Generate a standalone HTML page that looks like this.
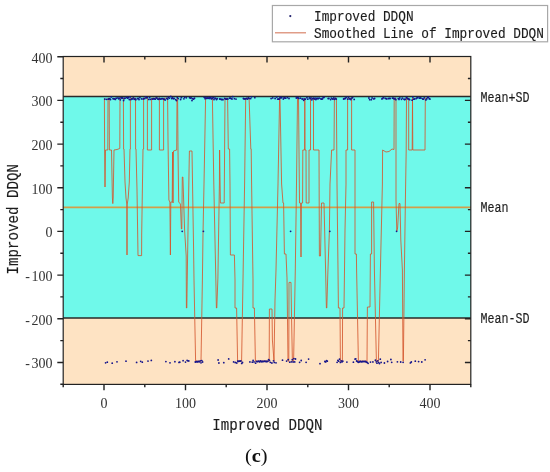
<!DOCTYPE html>
<html><head><meta charset="utf-8"><title>Improved DDQN</title>
<style>
html,body{margin:0;padding:0;background:#fff;}
svg{display:block;}
text{font-family:"Liberation Mono",monospace;fill:#1c1c1c;stroke:#1c1c1c;stroke-width:0.15px;}
.num text{font-family:"Liberation Serif",serif;fill:#333;stroke:none;}
</style></head><body>
<svg width="550" height="472" viewBox="0 0 550 472">
<rect width="550" height="472" fill="#fff"/>
<rect x="63.2" y="56.5" width="407.6" height="327.9" fill="#FEE3C3"/>
<rect x="63.2" y="96.5" width="407.6" height="221.5" fill="#6FF9EA"/>
<path d="M63.2,96.5H470.8M63.2,318.0H470.8" stroke="#2a2a2a" stroke-width="1.5" fill="none"/>
<path d="M63.2,207.4H470.8" stroke="#D29E4A" stroke-width="1.8" fill="none"/>
<path d="M104.4,98.2 L104.6,150.0 L105.0,187.0 L105.5,150.0 L107.8,150.0 L108.0,98.2 L109.2,98.2 L109.4,150.0 L111.5,150.0 L112.4,198.0 L112.8,203.6 L113.2,198.0 L114.0,150.0 L117.0,149.5 L119.8,148.5 L120.0,98.2 L123.4,98.2 L123.6,149.0 L124.0,149.0 L125.0,182.0 L126.0,198.0 L126.9,205.0 L127.0,255.0 L127.1,205.0 L128.2,198.0 L129.3,182.0 L130.0,149.0 L130.4,149.0 L130.4,98.2 L135.5,98.2 L135.6,149.0 L136.0,149.0 L137.0,190.0 L138.0,255.6 L141.6,255.6 L141.7,234.0 L143.0,149.0 L143.6,149.0 L143.6,98.2 L147.4,98.2 L147.4,150.0 L151.6,150.0 L151.6,98.2 L159.4,98.2 L159.4,150.0 L163.6,150.0 L163.6,98.2 L167.6,98.2 L168.0,140.0 L168.9,200.0 L169.9,202.0 L170.4,255.0 L170.8,202.0 L172.2,202.0 L172.6,152.0 L173.0,203.0 L173.5,151.0 L176.7,150.0 L177.0,98.2 L177.6,98.2 L178.0,150.0 L178.7,202.0 L180.4,204.0 L181.4,229.0 L181.8,229.0 L182.3,177.0 L182.9,177.0 L184.6,230.0 L186.2,256.0 L186.4,308.0 L186.8,308.0 L188.0,230.0 L189.4,151.0 L192.0,151.0 L193.6,250.0 L194.0,280.0 L195.6,361.2 L201.0,361.2 L202.4,280.0 L203.0,234.0 L204.0,184.0 L205.6,98.2 L212.4,98.2 L213.8,184.0 L215.8,278.0 L216.4,308.0 L216.8,308.0 L217.9,278.0 L219.4,184.0 L219.6,150.0 L220.4,203.0 L224.2,203.0 L225.0,98.2 L227.6,98.2 L228.3,149.0 L229.6,149.0 L230.0,184.0 L230.4,255.0 L234.4,255.0 L235.0,280.0 L235.0,308.0 L236.6,308.0 L237.6,361.2 L241.6,361.2 L243.0,280.0 L244.6,184.0 L245.7,98.2 L249.1,98.2 L250.8,149.0 L251.2,149.0 L251.6,184.0 L253.0,280.0 L253.0,308.0 L254.4,308.0 L255.4,361.2 L269.2,361.2 L269.4,309.0 L272.0,309.0 L272.4,340.0 L274.0,361.2 L275.0,300.0 L276.0,270.0 L278.0,184.0 L279.6,98.2 L280.0,98.2 L281.6,184.0 L283.0,203.0 L283.6,203.0 L284.4,254.0 L286.0,254.0 L287.0,278.0 L288.0,361.2 L288.8,361.2 L289.0,282.4 L291.0,282.4 L291.6,320.0 L292.4,361.2 L293.6,361.2 L295.3,270.0 L296.5,184.0 L297.5,98.2 L298.5,98.2 L299.5,203.0 L300.6,203.0 L301.0,257.0 L301.4,203.0 L302.6,203.0 L302.8,150.0 L304.6,150.0 L304.8,98.2 L305.0,150.0 L306.0,150.0 L306.2,203.0 L309.0,203.0 L309.0,150.0 L310.5,150.0 L310.5,98.2 L313.5,98.2 L313.5,150.0 L319.0,150.0 L319.4,256.0 L320.5,256.0 L321.5,203.0 L324.0,203.0 L325.6,270.0 L326.4,308.0 L326.8,308.0 L327.8,274.0 L329.4,231.0 L330.0,184.0 L331.6,150.0 L334.0,150.0 L334.4,98.2 L336.4,98.2 L337.0,184.0 L338.0,270.0 L338.4,308.0 L340.0,308.0 L340.4,361.2 L342.4,361.2 L342.6,308.0 L344.0,308.0 L344.5,270.0 L345.0,230.0 L346.0,184.0 L346.0,150.0 L347.6,150.0 L347.6,98.2 L351.6,98.2 L351.6,150.0 L355.0,150.0 L355.0,254.0 L356.4,254.0 L356.6,270.0 L358.4,361.2 L367.0,361.2 L367.4,307.0 L370.0,307.0 L370.4,254.0 L371.6,254.0 L371.6,202.0 L373.6,202.0 L374.4,270.0 L376.4,361.2 L378.4,361.2 L380.4,270.0 L382.4,184.0 L382.6,150.0 L386.0,152.0 L389.0,151.5 L392.0,149.0 L394.0,149.5 L394.2,98.2 L396.0,98.2 L396.0,200.0 L396.8,231.0 L397.6,228.0 L399.0,203.5 L400.0,203.5 L400.8,240.0 L402.4,270.0 L403.0,361.2 L403.4,361.2 L404.4,270.0 L405.4,200.0 L406.2,150.0 L406.5,98.2 L408.7,98.2 L408.7,150.0 L412.2,150.0 L412.5,98.2 L412.8,150.0 L425.0,150.0 L425.3,98.2 L427.5,98.2" fill="none" stroke="#D4562C" stroke-width="0.88" stroke-linejoin="round" opacity="0.95"/>
<g fill="#16168c"><circle cx="104.8" cy="99.1" r="0.9"/><circle cx="105.6" cy="362.8" r="0.9"/><circle cx="106.4" cy="99.3" r="0.9"/><circle cx="107.3" cy="362.2" r="0.9"/><circle cx="108.1" cy="99.2" r="0.9"/><circle cx="108.9" cy="98.9" r="0.9"/><circle cx="109.7" cy="98.7" r="0.9"/><circle cx="110.5" cy="99.5" r="0.9"/><circle cx="111.3" cy="96.9" r="0.9"/><circle cx="112.2" cy="363.2" r="0.9"/><circle cx="113.0" cy="98.7" r="0.9"/><circle cx="113.8" cy="98.8" r="0.9"/><circle cx="114.6" cy="98.9" r="0.9"/><circle cx="115.4" cy="99.4" r="0.9"/><circle cx="116.2" cy="98.2" r="0.9"/><circle cx="117.0" cy="361.8" r="0.9"/><circle cx="117.9" cy="97.9" r="0.9"/><circle cx="118.7" cy="98.8" r="0.9"/><circle cx="119.5" cy="98.1" r="0.9"/><circle cx="120.3" cy="99.8" r="0.9"/><circle cx="121.1" cy="97.7" r="0.9"/><circle cx="121.9" cy="98.1" r="0.9"/><circle cx="122.7" cy="98.0" r="0.9"/><circle cx="123.6" cy="100.5" r="0.9"/><circle cx="124.4" cy="98.5" r="0.9"/><circle cx="125.2" cy="98.1" r="0.9"/><circle cx="126.0" cy="361.2" r="0.9"/><circle cx="126.8" cy="97.4" r="0.9"/><circle cx="127.6" cy="98.2" r="0.9"/><circle cx="128.4" cy="97.6" r="0.9"/><circle cx="129.3" cy="99.5" r="0.9"/><circle cx="130.1" cy="97.0" r="0.9"/><circle cx="130.9" cy="99.6" r="0.9"/><circle cx="131.7" cy="98.9" r="0.9"/><circle cx="132.5" cy="98.8" r="0.9"/><circle cx="133.3" cy="97.9" r="0.9"/><circle cx="134.2" cy="99.3" r="0.9"/><circle cx="135.0" cy="98.6" r="0.9"/><circle cx="135.8" cy="99.7" r="0.9"/><circle cx="136.6" cy="362.4" r="0.9"/><circle cx="137.4" cy="98.7" r="0.9"/><circle cx="138.2" cy="98.3" r="0.9"/><circle cx="139.0" cy="99.5" r="0.9"/><circle cx="139.9" cy="97.6" r="0.9"/><circle cx="140.7" cy="361.3" r="0.9"/><circle cx="141.5" cy="98.9" r="0.9"/><circle cx="142.3" cy="362.2" r="0.9"/><circle cx="143.1" cy="99.0" r="0.9"/><circle cx="143.9" cy="98.5" r="0.9"/><circle cx="144.8" cy="98.6" r="0.9"/><circle cx="145.6" cy="96.8" r="0.9"/><circle cx="146.4" cy="97.7" r="0.9"/><circle cx="147.2" cy="97.7" r="0.9"/><circle cx="148.0" cy="361.1" r="0.9"/><circle cx="148.8" cy="99.4" r="0.9"/><circle cx="149.6" cy="97.5" r="0.9"/><circle cx="150.5" cy="99.3" r="0.9"/><circle cx="151.3" cy="360.4" r="0.9"/><circle cx="152.1" cy="98.9" r="0.9"/><circle cx="152.9" cy="99.1" r="0.9"/><circle cx="153.7" cy="98.7" r="0.9"/><circle cx="154.5" cy="98.8" r="0.9"/><circle cx="155.3" cy="99.2" r="0.9"/><circle cx="156.2" cy="97.8" r="0.9"/><circle cx="157.0" cy="98.1" r="0.9"/><circle cx="157.8" cy="99.1" r="0.9"/><circle cx="158.6" cy="99.3" r="0.9"/><circle cx="159.4" cy="98.5" r="0.9"/><circle cx="160.2" cy="99.1" r="0.9"/><circle cx="161.1" cy="98.9" r="0.9"/><circle cx="161.9" cy="98.6" r="0.9"/><circle cx="162.7" cy="98.6" r="0.9"/><circle cx="163.5" cy="99.1" r="0.9"/><circle cx="164.3" cy="99.2" r="0.9"/><circle cx="165.1" cy="100.0" r="0.9"/><circle cx="165.9" cy="361.6" r="0.9"/><circle cx="166.8" cy="98.4" r="0.9"/><circle cx="167.6" cy="99.2" r="0.9"/><circle cx="168.4" cy="97.2" r="0.9"/><circle cx="169.2" cy="98.2" r="0.9"/><circle cx="170.0" cy="362.8" r="0.9"/><circle cx="170.8" cy="96.5" r="0.9"/><circle cx="171.6" cy="98.5" r="0.9"/><circle cx="172.5" cy="98.0" r="0.9"/><circle cx="173.3" cy="98.7" r="0.9"/><circle cx="174.1" cy="98.5" r="0.9"/><circle cx="174.9" cy="361.7" r="0.9"/><circle cx="175.7" cy="99.6" r="0.9"/><circle cx="176.5" cy="100.6" r="0.9"/><circle cx="177.3" cy="97.6" r="0.9"/><circle cx="178.2" cy="98.6" r="0.9"/><circle cx="179.0" cy="362.4" r="0.9"/><circle cx="179.8" cy="362.2" r="0.9"/><circle cx="180.6" cy="99.5" r="0.9"/><circle cx="181.4" cy="97.7" r="0.9"/><circle cx="182.2" cy="231.3" r="0.9"/><circle cx="183.1" cy="360.7" r="0.9"/><circle cx="183.9" cy="98.8" r="0.9"/><circle cx="184.7" cy="97.3" r="0.9"/><circle cx="185.5" cy="362.1" r="0.9"/><circle cx="186.3" cy="97.8" r="0.9"/><circle cx="187.1" cy="360.3" r="0.9"/><circle cx="187.9" cy="360.8" r="0.9"/><circle cx="188.8" cy="360.9" r="0.9"/><circle cx="189.6" cy="97.7" r="0.9"/><circle cx="190.4" cy="98.1" r="0.9"/><circle cx="191.2" cy="97.9" r="0.9"/><circle cx="192.0" cy="100.5" r="0.9"/><circle cx="192.8" cy="98.7" r="0.9"/><circle cx="193.6" cy="99.2" r="0.9"/><circle cx="194.5" cy="98.2" r="0.9"/><circle cx="195.3" cy="362.0" r="0.9"/><circle cx="196.1" cy="361.8" r="0.9"/><circle cx="196.9" cy="361.5" r="0.9"/><circle cx="197.7" cy="361.9" r="0.9"/><circle cx="198.5" cy="361.3" r="0.9"/><circle cx="199.4" cy="361.8" r="0.9"/><circle cx="200.2" cy="360.8" r="0.9"/><circle cx="201.0" cy="362.8" r="0.9"/><circle cx="201.8" cy="360.6" r="0.9"/><circle cx="202.6" cy="362.0" r="0.9"/><circle cx="203.4" cy="231.3" r="0.9"/><circle cx="204.2" cy="97.3" r="0.9"/><circle cx="205.1" cy="98.7" r="0.9"/><circle cx="205.9" cy="97.6" r="0.9"/><circle cx="206.7" cy="98.4" r="0.9"/><circle cx="207.5" cy="98.0" r="0.9"/><circle cx="208.3" cy="98.3" r="0.9"/><circle cx="209.1" cy="97.5" r="0.9"/><circle cx="209.9" cy="98.5" r="0.9"/><circle cx="210.8" cy="97.5" r="0.9"/><circle cx="211.6" cy="98.9" r="0.9"/><circle cx="212.4" cy="98.2" r="0.9"/><circle cx="213.2" cy="97.7" r="0.9"/><circle cx="214.0" cy="99.6" r="0.9"/><circle cx="214.8" cy="98.1" r="0.9"/><circle cx="215.7" cy="98.4" r="0.9"/><circle cx="216.5" cy="99.5" r="0.9"/><circle cx="217.3" cy="98.7" r="0.9"/><circle cx="218.1" cy="360.0" r="0.9"/><circle cx="218.9" cy="363.0" r="0.9"/><circle cx="219.7" cy="99.0" r="0.9"/><circle cx="220.5" cy="99.1" r="0.9"/><circle cx="221.4" cy="99.5" r="0.9"/><circle cx="222.2" cy="99.4" r="0.9"/><circle cx="223.0" cy="99.7" r="0.9"/><circle cx="223.8" cy="362.7" r="0.9"/><circle cx="224.6" cy="98.3" r="0.9"/><circle cx="225.4" cy="98.9" r="0.9"/><circle cx="226.2" cy="99.2" r="0.9"/><circle cx="227.1" cy="98.7" r="0.9"/><circle cx="227.9" cy="99.1" r="0.9"/><circle cx="228.7" cy="358.9" r="0.9"/><circle cx="229.5" cy="98.2" r="0.9"/><circle cx="230.3" cy="98.2" r="0.9"/><circle cx="231.1" cy="98.5" r="0.9"/><circle cx="232.0" cy="99.0" r="0.9"/><circle cx="232.8" cy="96.7" r="0.9"/><circle cx="233.6" cy="361.9" r="0.9"/><circle cx="234.4" cy="98.7" r="0.9"/><circle cx="235.2" cy="362.5" r="0.9"/><circle cx="236.0" cy="99.1" r="0.9"/><circle cx="236.8" cy="363.0" r="0.9"/><circle cx="237.7" cy="361.1" r="0.9"/><circle cx="238.5" cy="361.4" r="0.9"/><circle cx="239.3" cy="361.2" r="0.9"/><circle cx="240.1" cy="361.1" r="0.9"/><circle cx="240.9" cy="361.0" r="0.9"/><circle cx="241.7" cy="363.4" r="0.9"/><circle cx="242.5" cy="362.5" r="0.9"/><circle cx="243.4" cy="98.5" r="0.9"/><circle cx="244.2" cy="98.9" r="0.9"/><circle cx="245.0" cy="98.8" r="0.9"/><circle cx="245.8" cy="98.8" r="0.9"/><circle cx="246.6" cy="98.3" r="0.9"/><circle cx="247.4" cy="99.1" r="0.9"/><circle cx="248.3" cy="98.0" r="0.9"/><circle cx="249.1" cy="98.5" r="0.9"/><circle cx="249.9" cy="361.9" r="0.9"/><circle cx="250.7" cy="98.6" r="0.9"/><circle cx="251.5" cy="96.8" r="0.9"/><circle cx="252.3" cy="362.2" r="0.9"/><circle cx="253.1" cy="360.4" r="0.9"/><circle cx="254.0" cy="361.9" r="0.9"/><circle cx="254.8" cy="97.7" r="0.9"/><circle cx="255.6" cy="363.2" r="0.9"/><circle cx="256.4" cy="361.4" r="0.9"/><circle cx="257.2" cy="361.6" r="0.9"/><circle cx="258.0" cy="361.5" r="0.9"/><circle cx="258.9" cy="361.2" r="0.9"/><circle cx="259.7" cy="361.9" r="0.9"/><circle cx="260.5" cy="360.9" r="0.9"/><circle cx="261.3" cy="361.5" r="0.9"/><circle cx="262.1" cy="361.8" r="0.9"/><circle cx="262.9" cy="361.2" r="0.9"/><circle cx="263.7" cy="361.6" r="0.9"/><circle cx="264.6" cy="361.2" r="0.9"/><circle cx="265.4" cy="361.4" r="0.9"/><circle cx="266.2" cy="361.5" r="0.9"/><circle cx="267.0" cy="361.5" r="0.9"/><circle cx="267.8" cy="361.3" r="0.9"/><circle cx="268.6" cy="359.7" r="0.9"/><circle cx="269.4" cy="360.4" r="0.9"/><circle cx="270.3" cy="362.3" r="0.9"/><circle cx="271.1" cy="98.6" r="0.9"/><circle cx="271.9" cy="363.0" r="0.9"/><circle cx="272.7" cy="97.9" r="0.9"/><circle cx="273.5" cy="360.8" r="0.9"/><circle cx="274.3" cy="362.4" r="0.9"/><circle cx="275.1" cy="98.5" r="0.9"/><circle cx="276.0" cy="362.8" r="0.9"/><circle cx="276.8" cy="97.1" r="0.9"/><circle cx="277.6" cy="99.1" r="0.9"/><circle cx="278.4" cy="99.2" r="0.9"/><circle cx="279.2" cy="99.0" r="0.9"/><circle cx="280.0" cy="97.2" r="0.9"/><circle cx="280.9" cy="98.0" r="0.9"/><circle cx="281.7" cy="97.4" r="0.9"/><circle cx="282.5" cy="360.2" r="0.9"/><circle cx="283.3" cy="99.0" r="0.9"/><circle cx="284.1" cy="97.6" r="0.9"/><circle cx="284.9" cy="98.1" r="0.9"/><circle cx="285.7" cy="98.2" r="0.9"/><circle cx="286.6" cy="361.1" r="0.9"/><circle cx="287.4" cy="97.6" r="0.9"/><circle cx="288.2" cy="359.7" r="0.9"/><circle cx="289.0" cy="98.5" r="0.9"/><circle cx="289.8" cy="362.2" r="0.9"/><circle cx="290.6" cy="231.3" r="0.9"/><circle cx="291.4" cy="361.8" r="0.9"/><circle cx="292.3" cy="359.7" r="0.9"/><circle cx="293.1" cy="362.0" r="0.9"/><circle cx="293.9" cy="358.6" r="0.9"/><circle cx="294.7" cy="361.9" r="0.9"/><circle cx="295.5" cy="359.0" r="0.9"/><circle cx="296.3" cy="98.0" r="0.9"/><circle cx="297.2" cy="97.5" r="0.9"/><circle cx="298.0" cy="97.7" r="0.9"/><circle cx="298.8" cy="98.4" r="0.9"/><circle cx="299.6" cy="362.3" r="0.9"/><circle cx="300.4" cy="98.2" r="0.9"/><circle cx="301.2" cy="360.5" r="0.9"/><circle cx="302.0" cy="98.9" r="0.9"/><circle cx="302.9" cy="99.0" r="0.9"/><circle cx="303.7" cy="100.3" r="0.9"/><circle cx="304.5" cy="99.1" r="0.9"/><circle cx="305.3" cy="99.2" r="0.9"/><circle cx="306.1" cy="362.3" r="0.9"/><circle cx="306.9" cy="97.7" r="0.9"/><circle cx="307.8" cy="99.2" r="0.9"/><circle cx="308.6" cy="359.1" r="0.9"/><circle cx="309.4" cy="97.9" r="0.9"/><circle cx="310.2" cy="98.7" r="0.9"/><circle cx="311.0" cy="97.9" r="0.9"/><circle cx="311.8" cy="99.8" r="0.9"/><circle cx="312.6" cy="98.7" r="0.9"/><circle cx="313.5" cy="98.2" r="0.9"/><circle cx="314.3" cy="99.0" r="0.9"/><circle cx="315.1" cy="98.1" r="0.9"/><circle cx="315.9" cy="99.5" r="0.9"/><circle cx="316.7" cy="98.5" r="0.9"/><circle cx="317.5" cy="98.5" r="0.9"/><circle cx="318.3" cy="98.7" r="0.9"/><circle cx="319.2" cy="98.1" r="0.9"/><circle cx="320.0" cy="363.7" r="0.9"/><circle cx="320.8" cy="98.8" r="0.9"/><circle cx="321.6" cy="99.2" r="0.9"/><circle cx="322.4" cy="98.9" r="0.9"/><circle cx="323.2" cy="97.5" r="0.9"/><circle cx="324.0" cy="97.4" r="0.9"/><circle cx="324.9" cy="361.5" r="0.9"/><circle cx="325.7" cy="361.9" r="0.9"/><circle cx="326.5" cy="360.7" r="0.9"/><circle cx="327.3" cy="361.2" r="0.9"/><circle cx="328.1" cy="98.6" r="0.9"/><circle cx="328.9" cy="98.4" r="0.9"/><circle cx="329.8" cy="231.3" r="0.9"/><circle cx="330.6" cy="99.6" r="0.9"/><circle cx="331.4" cy="98.1" r="0.9"/><circle cx="332.2" cy="98.8" r="0.9"/><circle cx="333.0" cy="99.2" r="0.9"/><circle cx="333.8" cy="98.0" r="0.9"/><circle cx="334.6" cy="99.3" r="0.9"/><circle cx="335.5" cy="98.5" r="0.9"/><circle cx="336.3" cy="99.1" r="0.9"/><circle cx="337.1" cy="362.3" r="0.9"/><circle cx="337.9" cy="360.4" r="0.9"/><circle cx="338.7" cy="361.2" r="0.9"/><circle cx="339.5" cy="359.2" r="0.9"/><circle cx="340.4" cy="362.4" r="0.9"/><circle cx="341.2" cy="360.8" r="0.9"/><circle cx="342.0" cy="361.9" r="0.9"/><circle cx="342.8" cy="361.2" r="0.9"/><circle cx="343.6" cy="99.0" r="0.9"/><circle cx="344.4" cy="98.7" r="0.9"/><circle cx="345.2" cy="98.5" r="0.9"/><circle cx="346.1" cy="97.5" r="0.9"/><circle cx="346.9" cy="362.1" r="0.9"/><circle cx="347.7" cy="99.2" r="0.9"/><circle cx="348.5" cy="97.2" r="0.9"/><circle cx="349.3" cy="98.8" r="0.9"/><circle cx="350.1" cy="98.8" r="0.9"/><circle cx="350.9" cy="99.6" r="0.9"/><circle cx="351.8" cy="98.1" r="0.9"/><circle cx="352.6" cy="97.6" r="0.9"/><circle cx="353.4" cy="362.2" r="0.9"/><circle cx="354.2" cy="99.4" r="0.9"/><circle cx="355.0" cy="359.1" r="0.9"/><circle cx="355.8" cy="358.9" r="0.9"/><circle cx="356.6" cy="361.0" r="0.9"/><circle cx="357.5" cy="361.5" r="0.9"/><circle cx="358.3" cy="362.3" r="0.9"/><circle cx="359.1" cy="362.0" r="0.9"/><circle cx="359.9" cy="361.4" r="0.9"/><circle cx="360.7" cy="361.5" r="0.9"/><circle cx="361.5" cy="361.8" r="0.9"/><circle cx="362.4" cy="361.5" r="0.9"/><circle cx="363.2" cy="361.6" r="0.9"/><circle cx="364.0" cy="361.3" r="0.9"/><circle cx="364.8" cy="361.6" r="0.9"/><circle cx="365.6" cy="361.5" r="0.9"/><circle cx="366.4" cy="362.1" r="0.9"/><circle cx="367.2" cy="362.4" r="0.9"/><circle cx="368.1" cy="363.3" r="0.9"/><circle cx="368.9" cy="98.0" r="0.9"/><circle cx="369.7" cy="99.7" r="0.9"/><circle cx="370.5" cy="362.1" r="0.9"/><circle cx="371.3" cy="99.7" r="0.9"/><circle cx="372.1" cy="98.0" r="0.9"/><circle cx="372.9" cy="361.9" r="0.9"/><circle cx="373.8" cy="98.9" r="0.9"/><circle cx="374.6" cy="98.4" r="0.9"/><circle cx="375.4" cy="360.2" r="0.9"/><circle cx="376.2" cy="361.8" r="0.9"/><circle cx="377.0" cy="363.2" r="0.9"/><circle cx="377.8" cy="360.9" r="0.9"/><circle cx="378.7" cy="362.6" r="0.9"/><circle cx="379.5" cy="363.6" r="0.9"/><circle cx="380.3" cy="359.2" r="0.9"/><circle cx="381.1" cy="362.4" r="0.9"/><circle cx="381.9" cy="98.9" r="0.9"/><circle cx="382.7" cy="98.4" r="0.9"/><circle cx="383.5" cy="97.6" r="0.9"/><circle cx="384.4" cy="363.0" r="0.9"/><circle cx="385.2" cy="98.3" r="0.9"/><circle cx="386.0" cy="98.6" r="0.9"/><circle cx="386.8" cy="98.9" r="0.9"/><circle cx="387.6" cy="361.5" r="0.9"/><circle cx="388.4" cy="98.6" r="0.9"/><circle cx="389.2" cy="98.4" r="0.9"/><circle cx="390.1" cy="98.5" r="0.9"/><circle cx="390.9" cy="359.5" r="0.9"/><circle cx="391.7" cy="362.3" r="0.9"/><circle cx="392.5" cy="98.2" r="0.9"/><circle cx="393.3" cy="98.2" r="0.9"/><circle cx="394.1" cy="99.0" r="0.9"/><circle cx="395.0" cy="98.4" r="0.9"/><circle cx="395.8" cy="99.7" r="0.9"/><circle cx="396.6" cy="231.3" r="0.9"/><circle cx="397.4" cy="361.8" r="0.9"/><circle cx="398.2" cy="98.6" r="0.9"/><circle cx="399.0" cy="99.4" r="0.9"/><circle cx="399.8" cy="98.0" r="0.9"/><circle cx="400.7" cy="362.0" r="0.9"/><circle cx="401.5" cy="99.3" r="0.9"/><circle cx="402.3" cy="98.1" r="0.9"/><circle cx="403.1" cy="362.3" r="0.9"/><circle cx="403.9" cy="99.1" r="0.9"/><circle cx="404.7" cy="99.7" r="0.9"/><circle cx="405.5" cy="99.1" r="0.9"/><circle cx="406.4" cy="97.3" r="0.9"/><circle cx="407.2" cy="98.2" r="0.9"/><circle cx="408.0" cy="99.1" r="0.9"/><circle cx="408.8" cy="98.9" r="0.9"/><circle cx="409.6" cy="99.7" r="0.9"/><circle cx="410.4" cy="362.9" r="0.9"/><circle cx="411.3" cy="362.0" r="0.9"/><circle cx="412.1" cy="100.2" r="0.9"/><circle cx="412.9" cy="97.0" r="0.9"/><circle cx="413.7" cy="99.2" r="0.9"/><circle cx="414.5" cy="99.0" r="0.9"/><circle cx="415.3" cy="361.2" r="0.9"/><circle cx="416.1" cy="98.7" r="0.9"/><circle cx="417.0" cy="97.9" r="0.9"/><circle cx="417.8" cy="97.4" r="0.9"/><circle cx="418.6" cy="361.6" r="0.9"/><circle cx="419.4" cy="98.2" r="0.9"/><circle cx="420.2" cy="97.8" r="0.9"/><circle cx="421.0" cy="98.2" r="0.9"/><circle cx="421.8" cy="362.0" r="0.9"/><circle cx="422.7" cy="99.0" r="0.9"/><circle cx="423.5" cy="99.2" r="0.9"/><circle cx="424.3" cy="97.8" r="0.9"/><circle cx="425.1" cy="359.8" r="0.9"/><circle cx="425.9" cy="99.9" r="0.9"/><circle cx="426.7" cy="98.9" r="0.9"/><circle cx="427.6" cy="97.5" r="0.9"/><circle cx="428.4" cy="97.1" r="0.9"/><circle cx="429.2" cy="98.7" r="0.9"/><circle cx="430.0" cy="99.1" r="0.9"/></g>
<rect x="63.2" y="56.5" width="407.6" height="327.9" fill="none" stroke="#222" stroke-width="1.2"/>
<path d="M57.3,362.5H63.2M464.9,362.5H470.8M57.3,318.8H63.2M464.9,318.8H470.8M57.3,275.1H63.2M464.9,275.1H470.8M57.3,231.4H63.2M464.9,231.4H470.8M57.3,187.7H63.2M464.9,187.7H470.8M57.3,144.1H63.2M464.9,144.1H470.8M57.3,100.4H63.2M464.9,100.4H470.8M57.3,56.7H63.2M60.3,384.3H63.2M60.3,340.6H63.2M467.9,340.6H470.8M60.3,296.9H63.2M467.9,296.9H470.8M60.3,253.3H63.2M467.9,253.3H470.8M60.3,209.6H63.2M467.9,209.6H470.8M60.3,165.9H63.2M467.9,165.9H470.8M60.3,122.2H63.2M467.9,122.2H470.8M60.3,78.5H63.2M467.9,78.5H470.8M104.0,384.4V390.3M104.0,56.5V62.4M185.5,384.4V390.3M185.5,56.5V62.4M267.0,384.4V390.3M267.0,56.5V62.4M348.5,384.4V390.3M348.5,56.5V62.4M430.0,384.4V390.3M430.0,56.5V62.4M63.2,384.4V387.3M144.8,384.4V387.3M144.8,56.5V59.4M226.2,384.4V387.3M226.2,56.5V59.4M307.8,384.4V387.3M307.8,56.5V59.4M389.2,384.4V387.3M389.2,56.5V59.4M470.8,384.4V387.3" stroke="#222" stroke-width="1.4" fill="none"/>
<g class="num"><text x="52.6" y="368.3" font-size="14" text-anchor="end">-<tspan dx="1.6">300</tspan></text><text x="52.6" y="324.6" font-size="14" text-anchor="end">-<tspan dx="1.6">200</tspan></text><text x="52.6" y="280.9" font-size="14" text-anchor="end">-<tspan dx="1.6">100</tspan></text><text x="52.6" y="237.2" font-size="14" text-anchor="end">0</text><text x="52.6" y="193.5" font-size="14" text-anchor="end">100</text><text x="52.6" y="149.9" font-size="14" text-anchor="end">200</text><text x="52.6" y="106.2" font-size="14" text-anchor="end">300</text><text x="52.6" y="62.5" font-size="14" text-anchor="end">400</text></g>
<g class="num"><text x="104.0" y="407.5" font-size="14" text-anchor="middle">0</text><text x="185.5" y="407.5" font-size="14" text-anchor="middle">100</text><text x="267.0" y="407.5" font-size="14" text-anchor="middle">200</text><text x="348.5" y="407.5" font-size="14" text-anchor="middle">300</text><text x="430.0" y="407.5" font-size="14" text-anchor="middle">400</text></g>
<text transform="translate(212.20,430.20) scale(0.8433,1)" font-size="16.80" text-anchor="start">Improved DDQN</text>
<text transform="translate(18.2,274.4) rotate(-90) scale(0.8433,1)" font-size="16.8">Improved DDQN</text>
<text transform="translate(480.60,101.80) scale(0.8159,1)" font-size="14.30" text-anchor="start">Mean+SD</text>
<text transform="translate(480.60,212.30) scale(0.8159,1)" font-size="14.30" text-anchor="start">Mean</text>
<text transform="translate(480.60,322.90) scale(0.8159,1)" font-size="14.30" text-anchor="start">Mean-SD</text>
<rect x="272.4" y="5.5" width="275.2" height="36.3" fill="#fff" stroke="#a8a8a8" stroke-width="1.2"/>
<circle cx="290.3" cy="16.1" r="1.1" fill="#22226e"/>
<path d="M275,32.8H306" stroke="#D9846A" stroke-width="1.2"/>
<text transform="translate(314.00,20.90) scale(0.8637,1)" font-size="14.80" text-anchor="start">Improved DDQN</text>
<text transform="translate(314.00,37.80) scale(0.8637,1)" font-size="14.80" text-anchor="start">Smoothed Line of Improved DDQN</text>
<text x="245" y="462" font-size="18" textLength="22.6" lengthAdjust="spacingAndGlyphs" style="fill:#111;stroke:none;font-family:'Liberation Serif',serif">(<tspan font-weight="bold">c</tspan>)</text>
</svg>
</body></html>
